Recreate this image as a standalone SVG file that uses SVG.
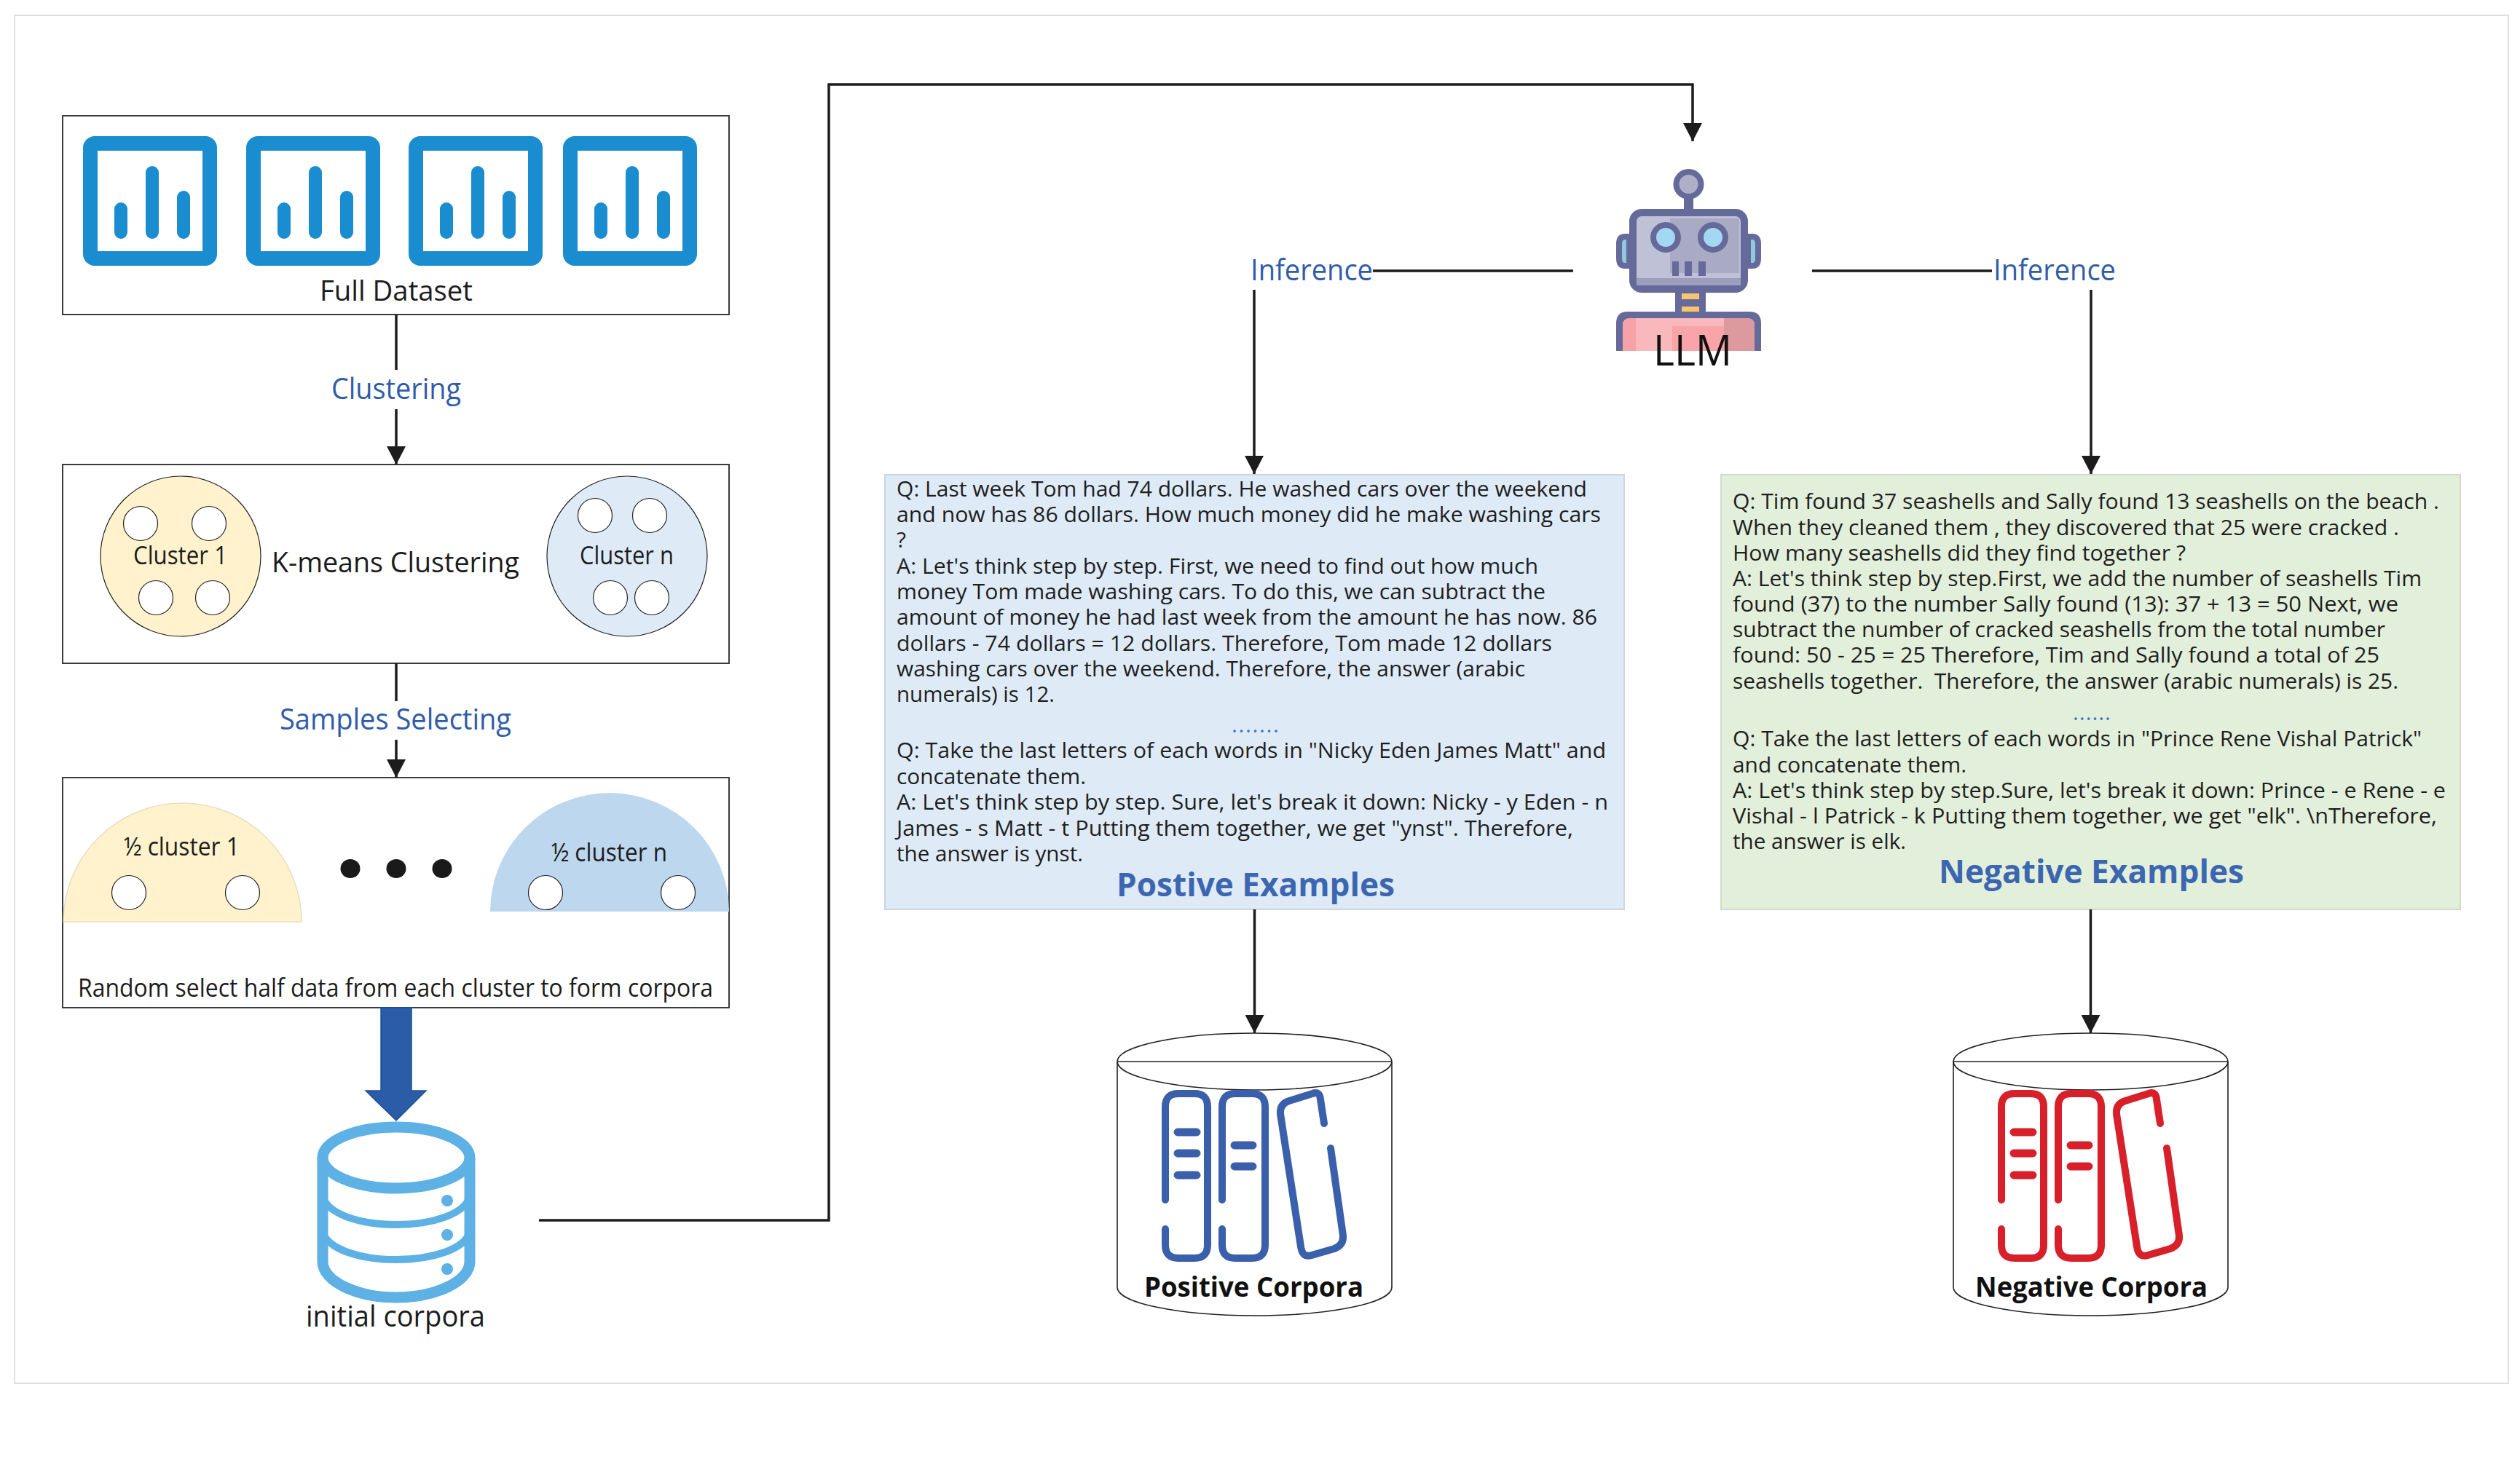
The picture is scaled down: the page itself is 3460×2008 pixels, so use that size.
<svg xmlns="http://www.w3.org/2000/svg" width="3460" height="2008" viewBox="0 0 3460 2008">
<style>
text{font-family:"Open Sans","Noto Sans","Liberation Sans",sans-serif;fill:#1c1c1c;font-size:34px}
.box{fill:#fff;stroke:#3c3c3c;stroke-width:2}
.lab{fill:#2f5ca8;font-size:40px}
.big{font-size:38px}
.ic2{font-size:40px}
.t{font-size:30px;fill:#1e1e1e}
.h{font-size:44px;font-weight:700;fill:#3c66b0}
.cb{font-size:38px;font-weight:700;fill:#111}
.ln{fill:none;stroke:#1c1c1c;stroke-width:3.500}
.sc{fill:#fff;stroke:#222;stroke-width:1.2}
.cyl{fill:#fff;stroke:#222;stroke-width:1.6}
.ic{fill:none;stroke:#1a8dd0;stroke-width:20;stroke-linejoin:round}
.bar{fill:#1a8dd0}
.bk{fill:none;stroke-width:10;stroke-linecap:round;stroke-linejoin:round}
.db{fill:none;stroke:#5db1e4}
</style>
<defs>
<marker id="a" markerUnits="userSpaceOnUse" markerWidth="26" markerHeight="26" refX="25" refY="13" orient="auto"><path d="M0 0L25 13L0 26Z" fill="#1c1c1c"/></marker>
<g id="chart"><rect x="10" y="10" width="164" height="158" rx="6" class="ic"/><rect x="43" y="91" width="18" height="50" rx="9" class="bar"/><rect x="86" y="41" width="18" height="100" rx="9" class="bar"/><rect x="129" y="75" width="18" height="66" rx="9" class="bar"/></g>
<g id="books"><path class="bk" d="M1600 1648V1520Q1600 1502 1618 1502H1640Q1658 1502 1658 1520V1710Q1658 1728 1640 1728H1618Q1600 1728 1600 1710V1688"/><path class="bk" d="M1678 1648V1520Q1678 1502 1696 1502H1719Q1737 1502 1737 1520V1710Q1737 1728 1719 1728H1696Q1678 1728 1678 1710V1688"/><path class="bk" d="M1818 1543L1813 1510Q1812 1498 1802 1502L1770 1512Q1757 1516 1758 1530L1786 1712Q1788 1728 1801 1724L1832 1715Q1845 1710 1844 1697L1827 1577"/><rect x="1612" y="1550" width="36" height="10" rx="5"/><rect x="1612" y="1579" width="36" height="10" rx="5"/><rect x="1612" y="1609" width="36" height="10" rx="5"/><rect x="1690" y="1568" width="35" height="10" rx="5"/><rect x="1690" y="1597" width="35" height="10" rx="5"/></g>
<g id="cyl"><path class="cyl" d="M1534 1458V1768A188.500 39 0 0 0 1911 1768V1458"/><ellipse class="cyl" cx="1722.500" cy="1458" rx="188.500" ry="39"/><path class="cyl" stroke-width="2.500" d="M1534 1458H1911"/></g>
</defs>
<rect width="3460" height="2008" fill="#fff"/>
<rect id="frame" x="20" y="21" width="3424" height="1879" fill="#fff" stroke="#dfdfdf" stroke-width="2"/>
<g id="full-dataset"><rect class="box" x="86" y="159" width="915" height="273"/>
<use href="#chart" x="114" y="187"/><use href="#chart" x="338" y="187"/><use href="#chart" x="561" y="187"/><use href="#chart" x="773" y="187"/>
<text x="439" y="413" class="big" textLength="210" lengthAdjust="spacingAndGlyphs">Full Dataset</text></g>
<g id="kmeans"><rect class="box" x="86" y="638" width="915" height="273"/>
<circle cx="248" cy="764" r="110" fill="#fff2cc" stroke="#222" stroke-width="1.200"/>
<circle class="sc" cx="193" cy="719" r="23.500"/><circle class="sc" cx="287" cy="719" r="23.500"/><circle class="sc" cx="214" cy="821" r="23.500"/><circle class="sc" cx="292" cy="821" r="23.500"/>
<text x="183" y="775" textLength="129" lengthAdjust="spacingAndGlyphs">Cluster 1</text>
<text x="373" y="786" class="big" textLength="340" lengthAdjust="spacingAndGlyphs">K-means Clustering</text>
<circle cx="861" cy="764" r="110" fill="#deebf7" stroke="#222" stroke-width="1.200"/>
<circle class="sc" cx="817" cy="708" r="23.500"/><circle class="sc" cx="892" cy="708" r="23.500"/><circle class="sc" cx="838" cy="821" r="23.500"/><circle class="sc" cx="895" cy="821" r="23.500"/>
<text x="796" y="775" textLength="129" lengthAdjust="spacingAndGlyphs">Cluster n</text></g>
<g id="samples"><rect class="box" x="86" y="1068" width="915" height="316"/>
<path d="M87 1266A163.500 163 0 0 1 414 1266Z" fill="#fff2cc" stroke="#e6dfc0" stroke-width="1.500"/>
<path d="M673 1252A164 163 0 0 1 1001 1252Z" fill="#bdd7ee"/>
<circle class="sc" cx="177" cy="1226" r="23.500"/><circle class="sc" cx="333" cy="1226" r="23.500"/><circle class="sc" cx="749" cy="1226" r="23.500"/><circle class="sc" cx="931" cy="1226" r="23.500"/>
<text x="170" y="1175" textLength="159" lengthAdjust="spacingAndGlyphs">½ cluster 1</text><text x="757" y="1183" textLength="159" lengthAdjust="spacingAndGlyphs">½ cluster n</text>
<ellipse cx="481" cy="1193" rx="13.500" ry="13" fill="#1a1a1a"/><ellipse cx="544" cy="1193" rx="13.500" ry="13" fill="#1a1a1a"/><ellipse cx="607" cy="1193" rx="13.500" ry="13" fill="#1a1a1a"/>
<text x="107" y="1369" textLength="872" lengthAdjust="spacingAndGlyphs">Random select half data from each cluster to form corpora</text></g>
<g id="big-arrow"><path d="M523 1384H565V1498H585L544 1539L502 1498H523Z" fill="#2a5ca8" stroke="#1f4f96" stroke-width="1.500"/></g>
<g id="initial-corpora"><ellipse class="db" stroke-width="15" cx="544" cy="1590" rx="101" ry="42"/>
<path class="db" stroke-width="15" d="M443 1590V1733C443 1760 490 1782 544 1782S645 1760 645 1733V1590"/>
<path class="db" stroke-width="10" d="M443 1643C450 1668 495 1682 544 1682S638 1668 645 1643M443 1692C450 1716 495 1730 544 1730S638 1716 645 1692"/>
<circle cx="614" cy="1649" r="8" fill="#5db1e4"/><circle cx="614" cy="1696" r="8" fill="#5db1e4"/><circle cx="614" cy="1743" r="8" fill="#5db1e4"/>
<text x="420" y="1822" class="ic2" textLength="246" lengthAdjust="spacingAndGlyphs">initial corpora</text></g>
<g id="llm">
<path d="M2237 325H2231Q2223 325 2223 335V355Q2223 365 2231 365H2237ZM2400 325H2406Q2414 325 2414 335V355Q2414 365 2406 365H2400Z" fill="#8ec9dc" stroke="#666a9a" stroke-width="8"/>
<rect x="2312" y="270" width="13" height="20" fill="#666a9a"/>
<circle cx="2318.500" cy="253" r="17" fill="#afb0c8" stroke="#666a9a" stroke-width="8"/>
<rect x="2242" y="292" width="153" height="105" rx="12" fill="#bfc1d6" stroke="#666a9a" stroke-width="10"/>
<path d="M2293 300H2388V375H2293Z" fill="#a9abc5"/><path d="M2247 382H2390V392H2247Z" fill="#9c9ebc"/>
<circle cx="2287" cy="326" r="17" fill="#a4d8f2" stroke="#666a9a" stroke-width="8"/><circle cx="2352" cy="326" r="17" fill="#a4d8f2" stroke="#666a9a" stroke-width="8"/>
<rect x="2296" y="359" width="9" height="20" fill="#666a9a"/><rect x="2313" y="359" width="10" height="20" fill="#666a9a"/><rect x="2332" y="359" width="10" height="20" fill="#666a9a"/>
<rect x="2300" y="402" width="42" height="28" fill="#666a9a"/><rect x="2309" y="403" width="24" height="8" fill="#f6c56d"/><rect x="2309" y="421" width="24" height="7" fill="#f6c56d"/>
<path d="M2219 482V444Q2219 428 2235 428H2402Q2418 428 2418 444V482Z" fill="#666a9a"/>
<path d="M2228 482V447Q2228 437 2238 437H2399Q2409 437 2409 447V482H2228Z" fill="#f8b8bc"/>
<path d="M2228 482V447Q2228 437 2238 437H2246V482Z" fill="#f7a2a8"/><path d="M2296 482V448H2367V482Z" fill="#f9a4a8"/><path d="M2367 437H2399Q2409 437 2409 447V482H2367Z" fill="#dd9a9e"/>
<text x="2270" y="502" style="font-size:58px;fill:#111" textLength="108" lengthAdjust="spacingAndGlyphs">LLM</text></g>
<g id="positive-examples"><rect x="1215" y="652" width="1015" height="597" fill="#deebf7" stroke="#c9d6e2" stroke-width="2"/>
<text class="t" x="1231" y="682" textLength="948" lengthAdjust="spacingAndGlyphs">Q: Last week Tom had 74 dollars. He washed cars over the weekend</text>
<text class="t" x="1231" y="717" textLength="967" lengthAdjust="spacingAndGlyphs">and now has 86 dollars. How much money did he make washing cars</text>
<text class="t" x="1231" y="752">?</text>
<text class="t" x="1231" y="788" textLength="881" lengthAdjust="spacingAndGlyphs">A: Let's think step by step. First, we need to find out how much</text>
<text class="t" x="1231" y="823" textLength="891" lengthAdjust="spacingAndGlyphs">money Tom made washing cars. To do this, we can subtract the</text>
<text class="t" x="1231" y="858" textLength="962" lengthAdjust="spacingAndGlyphs">amount of money he had last week from the amount he has now. 86</text>
<text class="t" x="1231" y="894" textLength="900" lengthAdjust="spacingAndGlyphs">dollars - 74 dollars = 12 dollars. Therefore, Tom made 12 dollars</text>
<text class="t" x="1231" y="929" textLength="863" lengthAdjust="spacingAndGlyphs">washing cars over the weekend. Therefore, the answer (arabic</text>
<text class="t" x="1231" y="964" textLength="217" lengthAdjust="spacingAndGlyphs">numerals) is 12.</text>
<text class="t" x="1691" y="1006" style="fill:#4472c4" textLength="65" lengthAdjust="spacing">.......</text>
<text class="t" x="1231" y="1041" textLength="974" lengthAdjust="spacingAndGlyphs">Q: Take the last letters of each words in "Nicky Eden James Matt" and</text>
<text class="t" x="1231" y="1077" textLength="260" lengthAdjust="spacingAndGlyphs">concatenate them.</text>
<text class="t" x="1231" y="1112" textLength="977" lengthAdjust="spacingAndGlyphs">A: Let's think step by step. Sure, let's break it down: Nicky - y Eden - n</text>
<text class="t" x="1231" y="1148" textLength="929" lengthAdjust="spacingAndGlyphs">James - s Matt - t Putting them together, we get "ynst". Therefore,</text>
<text class="t" x="1231" y="1183" textLength="256" lengthAdjust="spacingAndGlyphs">the answer is ynst.</text>
<text class="h" x="1533" y="1231" textLength="382" lengthAdjust="spacingAndGlyphs">Postive Examples</text></g>
<g id="negative-examples"><rect x="2363" y="652" width="1015" height="597" fill="#e2efda" stroke="#d0dcc8" stroke-width="2"/>
<text class="t" x="2379" y="699" textLength="970" lengthAdjust="spacingAndGlyphs">Q: Tim found 37 seashells and Sally found 13 seashells on the beach .</text>
<text class="t" x="2379" y="735" textLength="915" lengthAdjust="spacingAndGlyphs">When they cleaned them , they discovered that 25 were cracked .</text>
<text class="t" x="2379" y="770" textLength="622" lengthAdjust="spacingAndGlyphs">How many seashells did they find together ?</text>
<text class="t" x="2379" y="805" textLength="946" lengthAdjust="spacingAndGlyphs">A: Let's think step by step.First, we add the number of seashells Tim</text>
<text class="t" x="2379" y="840" textLength="914" lengthAdjust="spacingAndGlyphs">found (37) to the number Sally found (13): 37 + 13 = 50 Next, we</text>
<text class="t" x="2379" y="875" textLength="896" lengthAdjust="spacingAndGlyphs">subtract the number of cracked seashells from the total number</text>
<text class="t" x="2379" y="910" textLength="888" lengthAdjust="spacingAndGlyphs">found: 50 - 25 = 25 Therefore, Tim and Sally found a total of 25</text>
<text class="t" x="2379" y="946" xml:space="preserve" textLength="914" lengthAdjust="spacingAndGlyphs">seashells together.  Therefore, the answer (arabic numerals) is 25.</text>
<text class="t" x="2846" y="989" style="fill:#4472c4" textLength="52" lengthAdjust="spacing">......</text>
<text class="t" x="2379" y="1025" textLength="946" lengthAdjust="spacingAndGlyphs">Q: Take the last letters of each words in "Prince Rene Vishal Patrick"</text>
<text class="t" x="2379" y="1061" textLength="321" lengthAdjust="spacingAndGlyphs">and concatenate them.</text>
<text class="t" x="2379" y="1096" textLength="979" lengthAdjust="spacingAndGlyphs">A: Let's think step by step.Sure, let's break it down: Prince - e Rene - e</text>
<text class="t" x="2379" y="1131" textLength="967" lengthAdjust="spacingAndGlyphs">Vishal - l Patrick - k Putting them together, we get "elk". \nTherefore,</text>
<text class="t" x="2379" y="1166" textLength="238" lengthAdjust="spacingAndGlyphs">the answer is elk.</text>
<text class="h" x="2662" y="1213" textLength="419" lengthAdjust="spacingAndGlyphs">Negative Examples</text></g>
<g id="positive-corpora"><use href="#cyl"/><use href="#books" fill="#3a5fab" stroke="#3a5fab"/>
<text class="cb" x="1571" y="1781" textLength="301" lengthAdjust="spacingAndGlyphs">Positive Corpora</text></g>
<g id="negative-corpora"><use href="#cyl" x="1148"/><use href="#books" x="1148" fill="#d7202a" stroke="#d7202a"/>
<text class="cb" x="2712" y="1781" textLength="319" lengthAdjust="spacingAndGlyphs">Negative Corpora</text></g>
<g id="connectors">
<path class="ln" d="M544 432V508"/><path class="ln" marker-end="url(#a)" d="M544 562V638"/>
<path class="ln" d="M544 911V963"/><path class="ln" marker-end="url(#a)" d="M544 1016V1068"/>
<path class="ln" marker-end="url(#a)" d="M740 1676H1138V116H2324V194"/>
<path class="ln" d="M1885 372H2160"/><path class="ln" d="M2488 372H2735"/>
<path class="ln" marker-end="url(#a)" d="M1722 398V651"/><path class="ln" marker-end="url(#a)" d="M2871 398V651"/>
<path class="ln" marker-end="url(#a)" d="M1722.500 1249V1419"/><path class="ln" marker-end="url(#a)" d="M2870.500 1249V1419"/>
</g>
<g id="labels">
<text class="lab" x="455" y="548" textLength="178" lengthAdjust="spacingAndGlyphs">Clustering</text>
<text class="lab" x="384" y="1002" textLength="318" lengthAdjust="spacingAndGlyphs">Samples Selecting</text>
<text class="lab" x="1717" y="385" textLength="168" lengthAdjust="spacingAndGlyphs">Inference</text>
<text class="lab" x="2737" y="385" textLength="168" lengthAdjust="spacingAndGlyphs">Inference</text>
</g>
</svg>
